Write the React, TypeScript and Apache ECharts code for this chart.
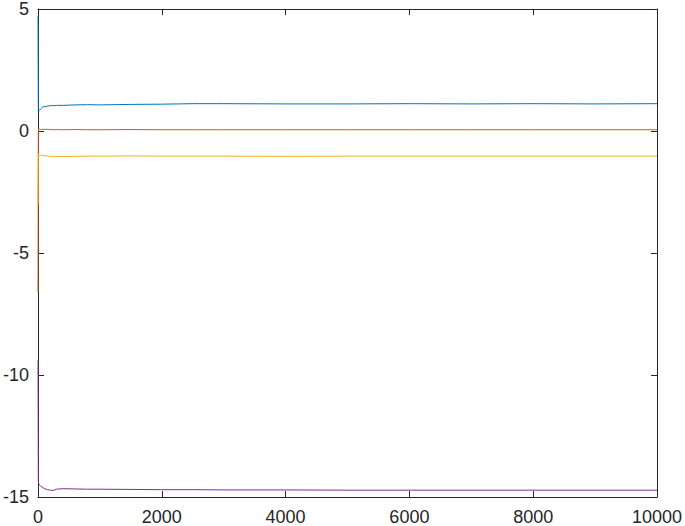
import React, { useEffect, useRef } from 'react';
import * as echarts from 'echarts';

const steps = [0, 5, 10, 20, 40, 60, 80, 100, 150, 200, 250, 300, 400, 600, 800, 1000, 1500, 2000, 2500, 3000, 4000, 5000, 6000, 7000, 8000, 9000, 10000];

const blueValues = [4.7, 0.82, 0.86, 0.84, 0.9, 0.95, 0.99, 1.0, 1.02, 1.04, 1.04, 1.05, 1.05, 1.07, 1.08, 1.07, 1.09, 1.1, 1.12, 1.12, 1.11, 1.11, 1.12, 1.11, 1.12, 1.11, 1.12];
const redValues = [-6.6, 0.0, 0.1, 0.08, 0.07, 0.06, 0.07, 0.06, 0.07, 0.06, 0.05, 0.06, 0.05, 0.06, 0.05, 0.05, 0.06, 0.05, 0.05, 0.05, 0.05, 0.05, 0.05, 0.05, 0.05, 0.05, 0.05];
const yellowValues = [-3.0, -0.95, -0.93, -1.0, -0.98, -1.0, -1.02, -1.0, -1.03, -1.04, -1.05, -1.04, -1.05, -1.04, -1.03, -1.03, -1.02, -1.03, -1.03, -1.03, -1.04, -1.03, -1.03, -1.03, -1.03, -1.03, -1.03];
const purpleValues = [-9.4, -14.35, -14.45, -14.5, -14.55, -14.58, -14.62, -14.65, -14.7, -14.72, -14.73, -14.68, -14.66, -14.67, -14.68, -14.68, -14.69, -14.7, -14.7, -14.71, -14.71, -14.72, -14.72, -14.72, -14.72, -14.72, -14.72];

const xTicks = { min: 0, max: 10000, interval: 2000 };
const yTicks = { min: -15, max: 5, interval: 5 };

const seriesDefs = [
  { name: 'blue', values: blueValues, color: '#0072BD' },
  { name: 'red', values: redValues, color: '#D95319' },
  { name: 'yellow', values: yellowValues, color: '#EDB120' },
  { name: 'purple', values: purpleValues, color: '#7E2F8E' },
];

const axisColor = '#262626';
const fontFamily = "'Liberation Sans', Arial, Helvetica, sans-serif";

export default function App() {
  const chartRef = useRef<HTMLDivElement>(null);

  useEffect(() => {
    if (!chartRef.current) return;
    const chart = echarts.init(chartRef.current, null, { renderer: 'svg' });

    const baseAxis = {
      axisLine: { show: true, onZero: false, lineStyle: { color: axisColor, width: 1 } },
      axisTick: { show: true, inside: true, length: 6, lineStyle: { color: axisColor } },
      splitLine: { show: false },
    };

    const option = {
      animation: false,
      backgroundColor: '#ffffff',
      grid: { left: 36, right: 26, top: 7, bottom: 29 },
      xAxis: [
        {
          type: 'value',
          position: 'bottom',
          ...xTicks,
          ...baseAxis,
          axisLabel: {
            color: axisColor,
            fontSize: 18,
            fontFamily,
            margin: 11,
            formatter: (v: number) => String(v),
          },
        },
        {
          type: 'value',
          position: 'top',
          ...xTicks,
          ...baseAxis,
          axisLabel: { show: false },
        },
      ],
      yAxis: [
        {
          type: 'value',
          position: 'left',
          ...yTicks,
          ...baseAxis,
          axisLabel: { color: axisColor, fontSize: 18, fontFamily, margin: 9 },
        },
        {
          type: 'value',
          position: 'right',
          ...yTicks,
          ...baseAxis,
          axisLabel: { show: false },
        },
      ],
      series: seriesDefs.map((s) => ({
        name: s.name,
        type: 'line',
        data: steps.map((x, i) => [x, s.values[i]]),
        showSymbol: false,
        lineStyle: { color: s.color, width: 1 },
        itemStyle: { color: s.color },
      })),
    };

    chart.setOption(option);
    return () => chart.dispose();
  }, []);

  return (
    <div
      ref={chartRef}
      style={{ position: 'fixed', left: 0, top: 0, width: 685, height: 526 }}
    />
  );
}
